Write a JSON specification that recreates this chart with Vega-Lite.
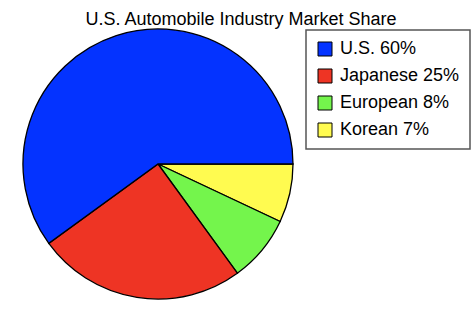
{
  "$schema": "https://vega.github.io/schema/vega-lite/v6.json",
  "width": 316,
  "height": 326,
  "autosize": {"type": "none"},
  "padding": {"left": 0, "top": 1, "right": 158, "bottom": 0},
  "background": "white",
  "title": {
    "text": "U.S. Automobile Industry Market Share",
    "font": "Liberation Sans",
    "fontSize": 18,
    "fontWeight": "normal",
    "color": "black",
    "anchor": "middle",
    "frame": "group",
    "orient": "top",
    "dx": 83,
    "dy": 28,
    "offset": 0
  },
  "data": {
    "values": [
      {"maker": "Korean", "share": 7, "slice": 1, "legend": "Korean 7%"},
      {"maker": "European", "share": 8, "slice": 2, "legend": "European 8%"},
      {"maker": "Japanese", "share": 25, "slice": 3, "legend": "Japanese 25%"},
      {"maker": "U.S.", "share": 60, "slice": 4, "legend": "U.S. 60%"}
    ]
  },
  "mark": {"type": "arc", "outerRadius": 135, "stroke": "black", "strokeWidth": 1.3},
  "encoding": {
    "theta": {
      "field": "share",
      "type": "quantitative",
      "stack": true,
      "scale": {"range": [{"expr": "PI / 2"}, {"expr": "5 * PI / 2"}]}
    },
    "order": {"field": "slice", "type": "quantitative", "sort": "ascending"},
    "color": {
      "field": "legend",
      "type": "nominal",
      "scale": {
        "domain": ["U.S. 60%", "Japanese 25%", "European 8%", "Korean 7%"],
        "range": ["#0433FF", "#EE3424", "#74F54C", "#FFFB50"]
      },
      "legend": {
        "title": null,
        "orient": "none",
        "legendX": 306,
        "legendY": 29,
        "direction": "vertical",
        "padding": 10,
        "strokeColor": "#555555",
        "fillColor": "white",
        "symbolType": "square",
        "symbolSize": 196,
        "symbolStrokeColor": "black",
        "symbolStrokeWidth": 1,
        "symbolOpacity": 1,
        "labelFont": "Liberation Sans",
        "labelFontSize": 18,
        "labelColor": "black",
        "labelOffset": 6,
        "rowPadding": 9,
        "labelLimit": 300,
        "encode": {"legend": {"update": {"strokeWidth": {"value": 1.5}}}}
      }
    }
  }
}
